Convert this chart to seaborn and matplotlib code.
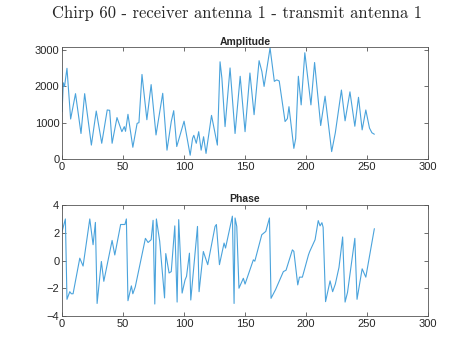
import matplotlib
matplotlib.use('Agg')
import matplotlib.pyplot as plt
import seaborn as sns

# amplitude: sample index -> value (peaks / troughs)
amp_idx = [0, 1, 2, 4, 7, 11, 15.5, 18.5, 24, 28, 32.5, 37, 39, 41, 45, 49, 51, 52, 54, 58,
           61.5, 63, 65.5, 69.5, 73, 77, 82.5, 86, 89.5, 91.5, 94, 100, 105, 107, 108, 110,
           112, 114, 116, 118, 122.5, 127.3, 129.5, 131, 133.6, 137.7, 141.8, 146, 150, 154,
           157.4, 161.5, 163.8, 165.6, 170.5, 172.4, 174, 176, 178, 182.8, 184.7, 186, 190,
           191.5, 193.7, 196, 199, 204, 207, 212, 215.6, 221, 224, 229, 232, 236, 240, 243,
           246, 249, 252, 254, 256]
amp_vals = [1300, 2100, 2000, 2500, 1100, 1800, 700, 1800, 380, 1320, 430, 1350, 1340, 430,
            1140, 750, 890, 760, 1230, 320, 980, 1000, 2330, 1080, 2050, 660, 1810, 240, 1030,
            1330, 340, 1040, 100, 570, 650, 430, 750, 240, 610, 150, 1200, 380, 2680, 2230,
            890, 2510, 700, 2280, 750, 2370, 1220, 2710, 2410, 2000, 3060, 2560, 2140, 2180,
            2150, 1030, 1110, 1440, 290, 560, 2280, 1490, 2930, 1490, 2660, 920, 1730, 200,
            720, 1900, 1050, 1850, 900, 1700, 800, 1350, 850, 720, 680]

# phase: sample index -> value
ph_idx = [0, 2.7, 4, 6.3, 7.6, 9, 14.5, 17.2, 22.7, 25.4, 27.3, 28.7, 32.2, 34.2, 41, 43.2,
          48, 51.5, 52.7, 54, 56.8, 58, 60, 68.3, 70.5, 73, 74.6, 76, 77.3, 80, 84, 85, 87.7,
          89.5, 92.4, 94.3, 95.6, 98.4, 100.8, 102, 104.4, 105.5, 111, 112.3, 115.8, 119.4,
          125.4, 126.5, 129, 132.8, 134, 139.6, 141, 141.8, 143.2, 145, 148.6, 150, 156.8,
          158, 163.7, 167, 170, 171.3, 175, 181.4, 183.6, 188.8, 190, 193.2, 194.6, 197, 202,
          203, 207.4, 210, 211.5, 213, 214, 216, 219.7, 221.8, 224, 227, 230, 232, 234, 238,
          240, 241.8, 246, 249, 256]
ph_vals = [2.1, 3.0, -2.8, -2.25, -2.4, -2.4, 0.17, -0.4, 3.0, 1.14, 2.75, -3.1, -0.07, -1.5,
           1.45, 0.4, 2.6, 2.6, 3.0, -2.9, -1.83, -2.4, -1.9, 1.6, 1.3, 1.5, 2.9, -3.14, 3.0,
           1.4, -2.7, 0.5, -0.9, -0.8, 2.5, -3.0, 2.95, -2.35, -1.4, -1.15, 0.53, -2.85, 2.46,
           -2.25, 0.65, -0.3, 2.46, 2.6, -0.3, 1.26, 0.9, 3.2, -3.1, 3.07, 2.46, -2.0, -1.28,
           -1.7, 0.05, -0.05, 1.86, 2.1, 3.07, -2.73, -2.1, -0.8, -0.7, 0.77, 0.66, -1.76,
           -1.2, -1.2, 0.41, 0.65, 1.5, 2.88, 2.5, 2.73, 2.4, -2.97, -1.47, -2.25, -1.7, -0.5,
           1.7, -3.0, -2.3, 0.3, 1.6, -2.8, -0.6, -1.2, 2.3]

sns.set_theme(style='ticks')
plt.rcParams['font.family'] = ['Liberation Sans', 'DejaVu Sans']
plt.rcParams['xtick.direction'] = 'in'
plt.rcParams['ytick.direction'] = 'in'
plt.rcParams['xtick.top'] = True
plt.rcParams['ytick.right'] = True

line_color = '#4aa3dc'
edge = '#555555'

fig = plt.figure(figsize=(4.74, 3.53), dpi=100)
ax1 = fig.add_axes([0.131, 0.550, 0.772, 0.316])
ax2 = fig.add_axes([0.131, 0.105, 0.772, 0.314])

sns.lineplot(x=amp_idx, y=amp_vals, ax=ax1, color=line_color, linewidth=0.8)
sns.lineplot(x=ph_idx, y=ph_vals, ax=ax2, color=line_color, linewidth=0.8)

ax1.set_xlim(0, 300)
ax1.set_ylim(0, 3080)
ax1.set_yticks([0, 1000, 2000, 3000])
ax1.set_title('Amplitude', fontsize=7.5, fontweight='bold', pad=2)

ax2.set_xlim(0, 300)
ax2.set_ylim(-4, 4)
ax2.set_yticks([-4, -2, 0, 2, 4])
ax2.set_title('Phase', fontsize=7.5, fontweight='bold', pad=2)

for ax in (ax1, ax2):
    ax.set_xticks([0, 50, 100, 150, 200, 250, 300])
    ax.tick_params(labelsize=8, length=3, width=0.6, color=edge, labelcolor='#262626', pad=2)
    for s in ax.spines.values():
        s.set_color(edge)
        s.set_linewidth(0.6)
    ax.set_xlabel('')
    ax.set_ylabel('')

fig.text(0.5, 0.963, 'Chirp 60 - receiver antenna 1 - transmit antenna 1',
         ha='center', va='center', fontsize=12, family='cmr10', color='#262626')

fig.savefig('out.png', dpi=100)
